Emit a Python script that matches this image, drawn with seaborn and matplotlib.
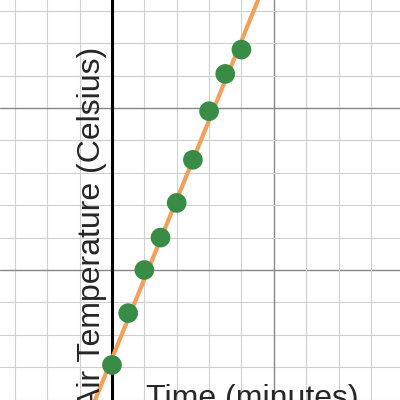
import numpy as np
import pandas as pd
import seaborn as sns
import matplotlib.pyplot as plt

sns.set_style("white")
plt.rcParams['font.family'] = ['Arial', 'Liberation Sans', 'DejaVu Sans']

# readings
time_min = [0, 0.5, 1, 1.5, 2, 2.5, 3, 3.5, 4]
temp_c = [2.07, 3.67, 5.0, 6.0, 7.07, 8.4, 9.9, 11.05, 11.8]
fit_slope = 2.45
fit_intercept = 2.27

df = pd.DataFrame({'time': time_min, 'temp': temp_c})

fig = plt.figure(figsize=(4, 4), dpi=100)
ax = fig.add_axes([0, 0, 1, 1])
xmin, xmax = -3.46, 8.9
ymin, ymax = 0.99, 13.33

for v in np.arange(-5, 15):
    major = v % 5 == 0
    ax.axvline(v, color='#888888' if major else '#d0d0d0', lw=1.0 if major else 0.8, zorder=0)
    ax.axhline(v, color='#888888' if major else '#d0d0d0', lw=1.0 if major else 0.8, zorder=0)
ax.axvline(0, color='black', lw=2.2, zorder=1)

xs = np.array([xmin, xmax])
sns.lineplot(x=xs, y=fit_slope * xs + fit_intercept, color='#f4a05a', lw=3, ax=ax, zorder=2)
sns.scatterplot(data=df, x='time', y='temp', color='#388c46', s=200, edgecolor='none', ax=ax, zorder=3)

ax.set_xlim(xmin, xmax)
ax.set_ylim(ymin, ymax)
ax.set_xticks([])
ax.set_yticks([])
ax.set_xlabel('')
ax.set_ylabel('')
for s in ax.spines.values():
    s.set_visible(False)

fig.text(146 / 400, -0.035, 'Time (minutes)', fontsize=23, ha='left', va='bottom')
fig.text(92 / 400, 0.43, 'Air Temperature (Celsius)', fontsize=23, rotation=90, ha='center', va='center')

fig.savefig('out.png', dpi=100)
